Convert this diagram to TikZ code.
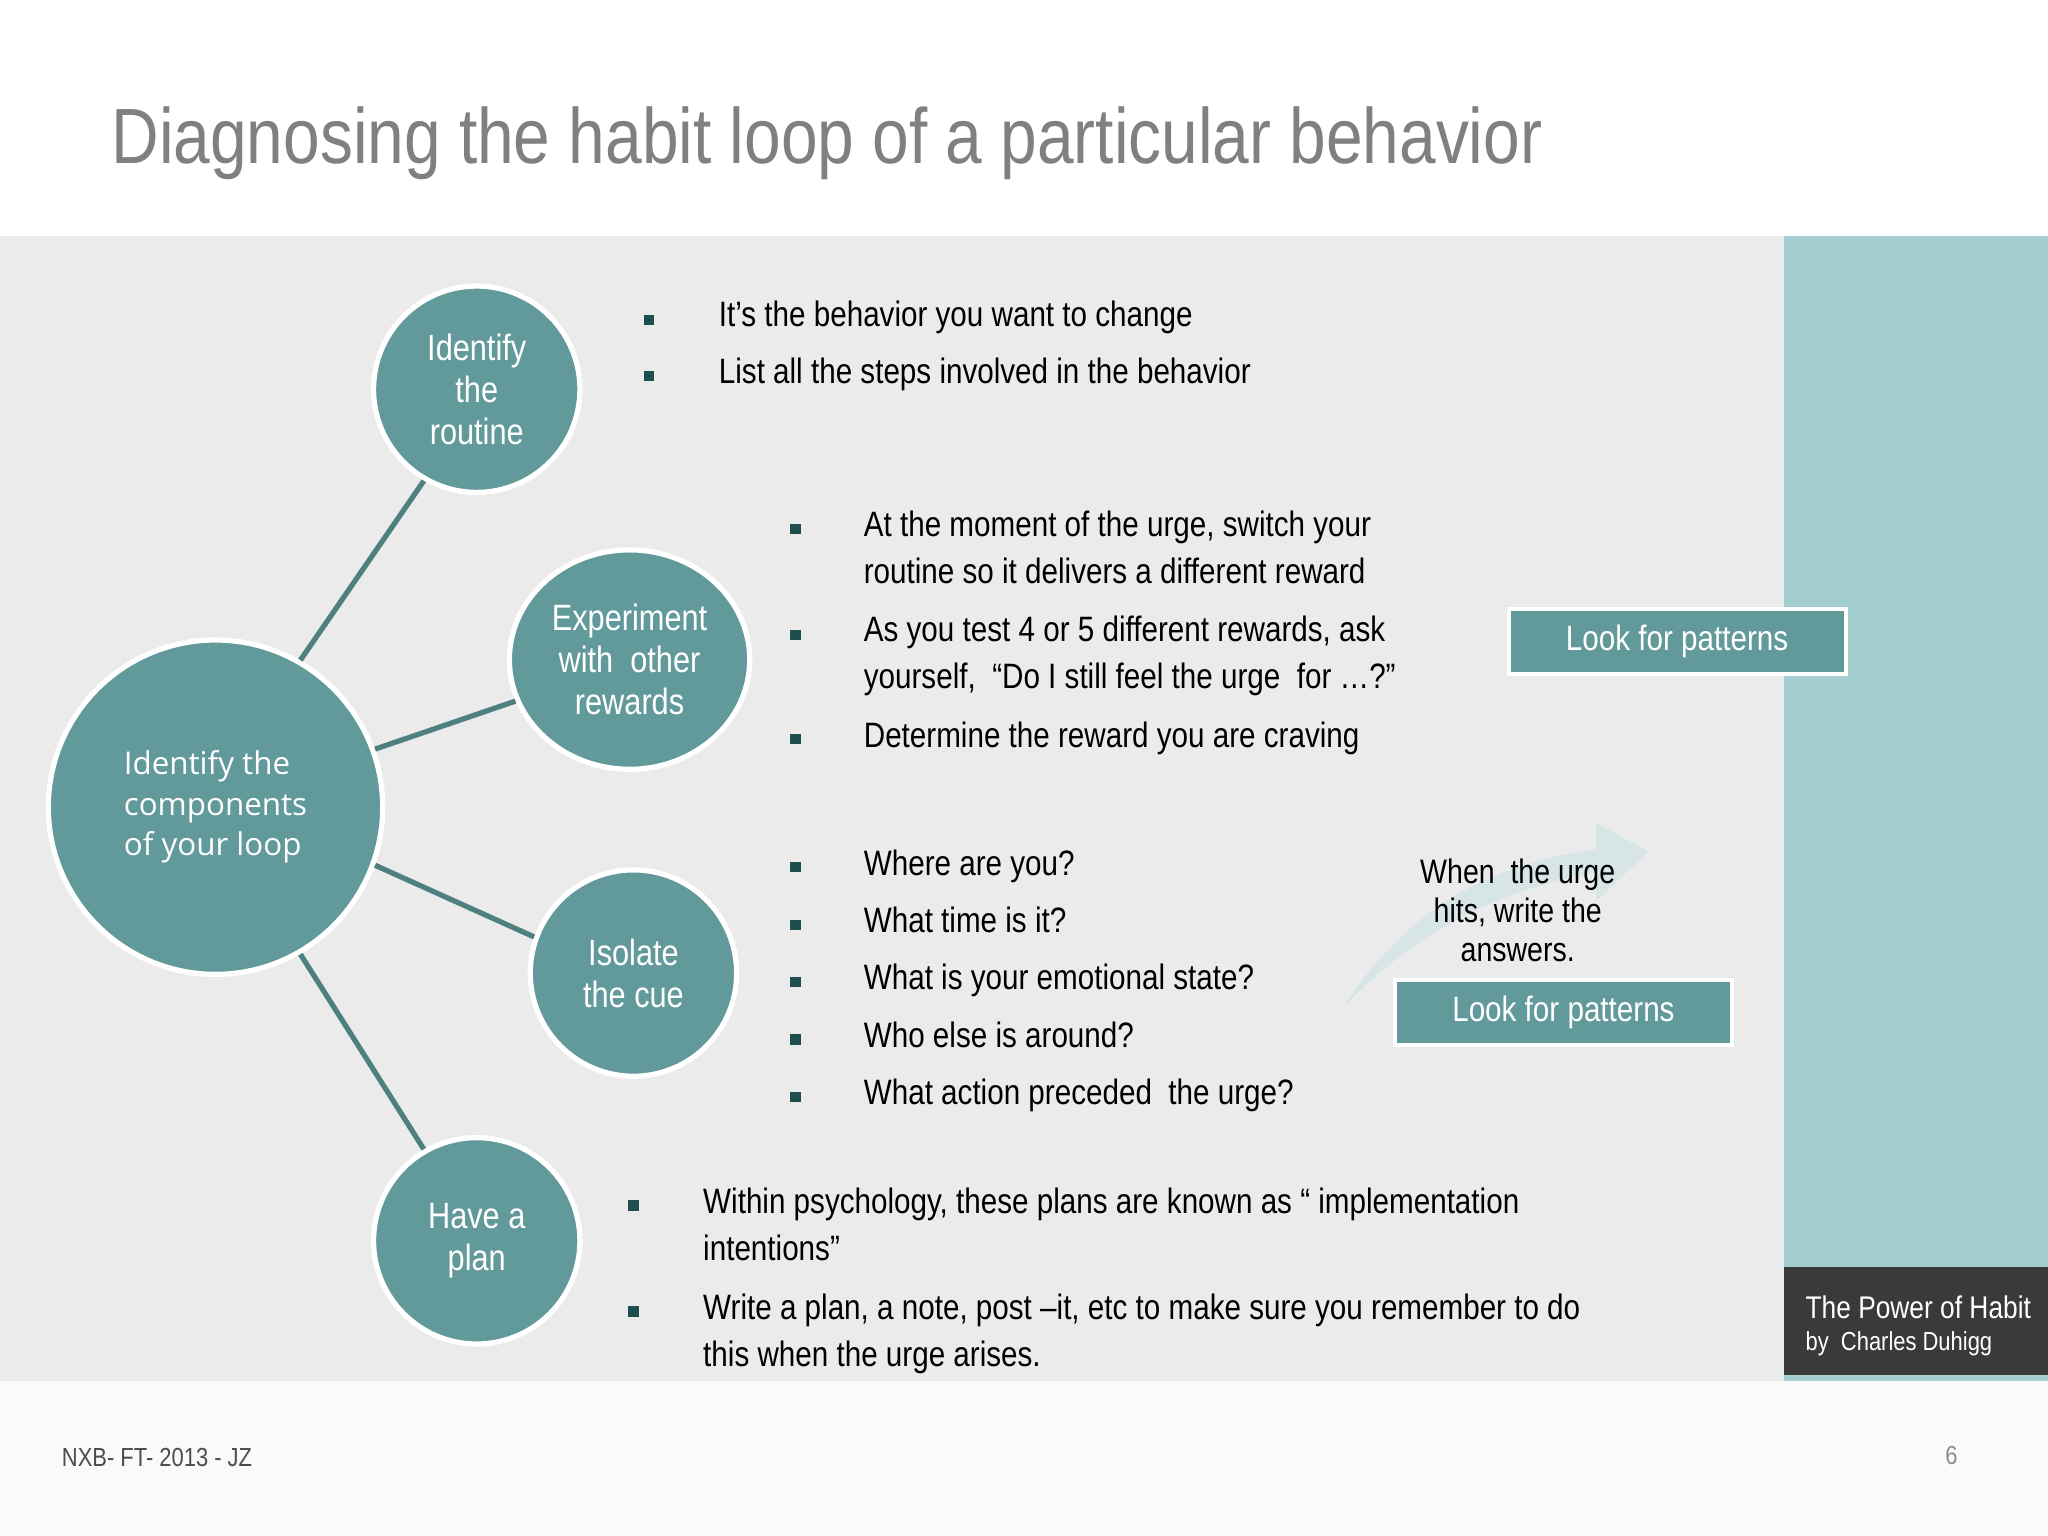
\documentclass[tikz,border=0pt]{standalone}
\usepackage{fontspec}
\usetikzlibrary{shapes.geometric}
\setmainfont{Liberation Sans}
\newfontfamily\narrow[FakeStretch=0.84]{Liberation Sans}
\newfontfamily\opens{Open Sans}
\definecolor{teal1}{HTML}{62999A}
\definecolor{tline}{HTML}{4F8080}
\definecolor{bandgrey}{HTML}{EBEBEB}
\definecolor{panel}{HTML}{A3CFD0}
\definecolor{dark}{HTML}{3A3A3A}
\definecolor{bul}{HTML}{1F4E4E}
\definecolor{titlegrey}{HTML}{808080}
\tikzset{
 circ/.style={circle,fill=teal1,draw=white,line width=2pt,text=white,align=center,inner sep=0pt,font=\narrow\fontsize{14}{16}\selectfont},
 conn/.style={draw=tline,line width=2pt},
 btxt/.style={anchor=north west,align=left,font=\narrow\fontsize{13.5}{18}\selectfont,inner sep=0pt},
 bsq/.style={fill=bul,minimum size=4pt,inner sep=0pt},
 patt/.style={fill=teal1,draw=white,line width=1.5pt,text=white,font=\narrow\fontsize{13.5}{16}\selectfont,minimum width=129pt,minimum height=25pt,inner sep=0pt}
}
\begin{document}
\begin{tikzpicture}[x=0.5pt,y=-0.5pt]
\useasboundingbox (0,0) rectangle (1568,1176);
\fill[white] (0,0) rectangle (1568,1176);
\fill[bandgrey] (0,181) rectangle (1366,1057);
\fill[panel] (1366,181) rectangle (1568,1057);
\fill[dark] (1366,970) rectangle (1568,1053);
\fill[black!2] (0,1057) rectangle (1568,1176);
\node[anchor=west,text=titlegrey,font=\narrow\fontsize{30}{34}\selectfont,inner sep=0pt] (title) at (85,110) {Diagnosing the habit loop of a particular behavior};
\node[anchor=north west,text=white,align=left,inner sep=0pt,font=\narrow\fontsize{12}{13}\selectfont] (book) at (1382,992) {The Power of Habit\\[-1pt]{\fontsize{10}{12}\selectfont by\ \ Charles Duhigg}};

% circles
\node[circ,minimum size=128pt,font=\opens\fontsize{12}{15.5}\selectfont,align=left] (big) at (165,618) {Identify the\\components\\of your loop};
\node[circ,minimum size=79pt] (rout) at (365,298) {Identify\\the\\routine};
\node[circ,ellipse,minimum width=92pt,minimum height=84pt] (exp) at (482,505) {Experiment\\with\ \ other\\rewards};
\node[circ,minimum size=79pt] (cue) at (485,745) {Isolate\\the cue};
\node[circ,minimum size=79pt] (plan) at (365,950) {Have a\\plan};
\draw[conn] (big.60) -- (rout.240);
\draw[conn] (big.20) -- (exp.200);
\draw[conn] (big.-20) -- (cue.160);
\draw[conn] (big.-60) -- (plan.120);

% bullets group 1
\node[bsq] (s1) at (497,245) {}; \node[btxt] (t1) at (550,230) {It’s the behavior you want to change};
\node[bsq] (s2) at (497,288) {}; \node[btxt] (t2) at (550,274) {List all the steps involved in the behavior};
% group 2
\node[bsq] (s3) at (609,405) {}; \node[btxt] (t3) at (661,391) {At the moment of the urge, switch your\\routine so it delivers a different reward};
\node[bsq] (s4) at (609,486) {}; \node[btxt] (t4) at (661,471) {As you test 4 or 5 different rewards, ask\\yourself,\ \ “Do I still feel the urge\ \ for …?”};
\node[bsq] (s5) at (609,566) {}; \node[btxt] (t5) at (661,552) {Determine the reward you are craving};
% group 3
\node[bsq] (s6) at (609,664) {}; \node[btxt] (t6) at (661,650) {Where are you?};
\node[bsq] (s7) at (609,708) {}; \node[btxt] (t7) at (661,694) {What time is it?};
\node[bsq] (s8) at (609,752) {}; \node[btxt] (t8) at (661,738) {What is your emotional state?};
\node[bsq] (s9) at (609,796) {}; \node[btxt] (t9) at (661,782) {Who else is around?};
\node[bsq] (s10) at (609,840) {}; \node[btxt] (t10) at (661,826) {What action preceded\ \ the urge?};
% group 4
\node[bsq] (s11) at (485,923) {}; \node[btxt] (t11) at (538,909) {Within psychology, these plans are known as “ implementation\\intentions”};
\node[bsq] (s12) at (485,1004) {}; \node[btxt] (t12) at (538,990) {Write a plan, a note, post –it, etc to make sure you remember to do\\this when the urge arises.};

% arrow
\fill[teal1!25] (1028,772) .. controls (1080,690) and (1150,660) .. (1222,650) -- (1222,630) -- (1262,652) -- (1222,690) -- (1222,668) .. controls (1150,680) and (1080,715) .. (1028,772) -- cycle;
\node[align=center,font=\narrow\fontsize{13}{15}\selectfont,inner sep=0pt] (when) at (1162,697) {When\ \ the urge\\hits, write the\\answers.};

\node[patt] (lp1) at (1284,491) {Look for patterns};
\node[patt] (lp2) at (1197,775) {Look for patterns};

\node[anchor=west,text=black!70,font=\narrow\fontsize{10}{12}\selectfont,inner sep=0pt] (foot) at (47,1116) {NXB- FT- 2013 - JZ};
\node[text=black!45,font=\narrow\fontsize{10}{12}\selectfont,inner sep=0pt] (pg) at (1494,1114) {6};
\end{tikzpicture}
\end{document}
